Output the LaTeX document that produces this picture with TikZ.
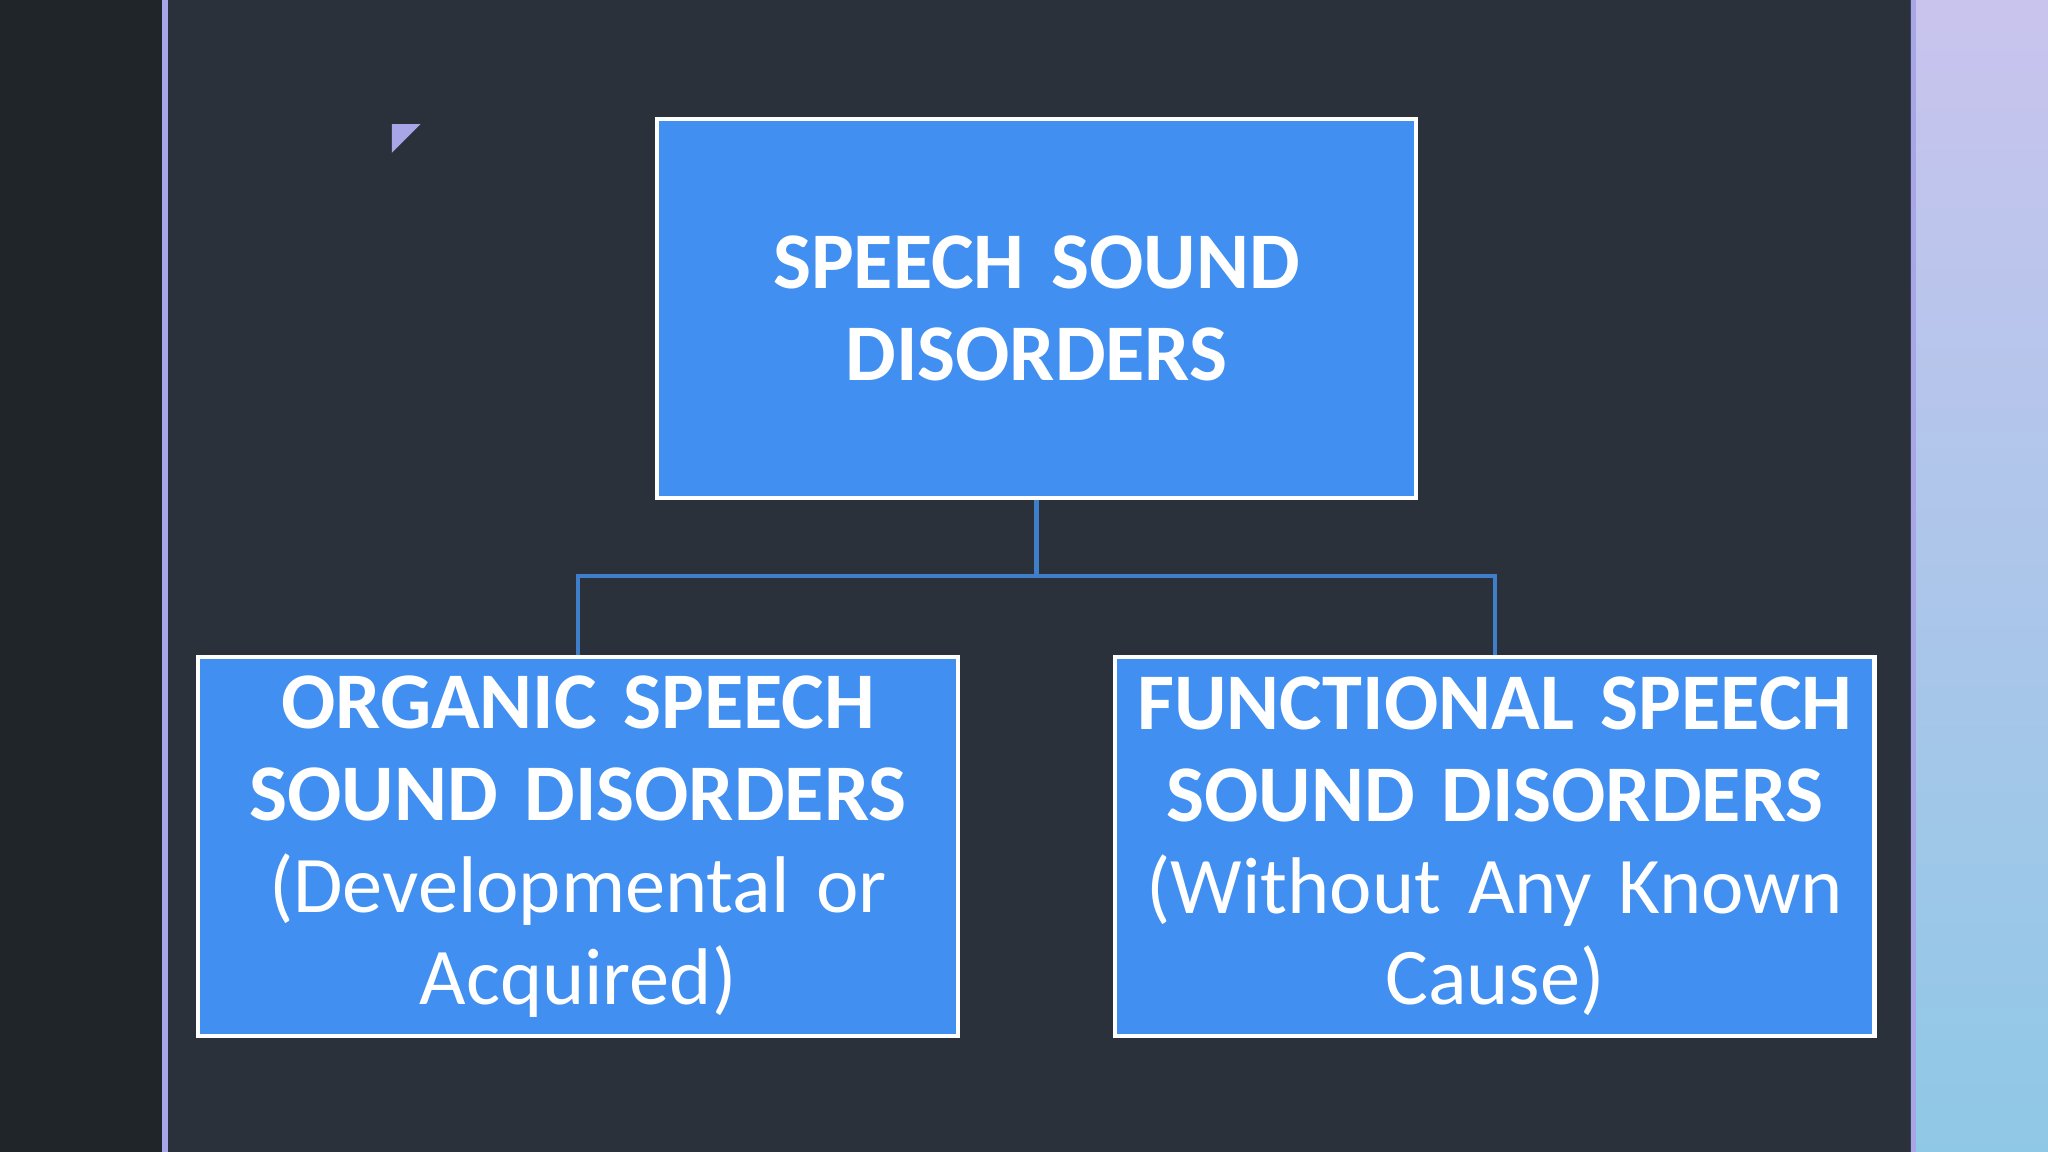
\documentclass[tikz,border=0pt]{standalone}
\usepackage{fontspec}
\setmainfont{Carlito}
\definecolor{bg}{HTML}{2B313A}
\definecolor{strip}{HTML}{1F2528}
\definecolor{boxblue}{HTML}{418FF0}
\definecolor{linkblue}{HTML}{3F7FC9}
\definecolor{lav}{HTML}{A9A6E8}
\definecolor{pbot}{HTML}{8FC8E6}
\definecolor{ptop}{HTML}{C9C4EE}
\begin{document}
\begin{tikzpicture}[x=0.01cm,y=-0.01cm,
  box/.style={draw=white,line width=0.9pt,fill=boxblue,text=white,align=center,
    minimum width=5.81cm,minimum height=2.9cm,inner sep=0pt,text width=5.8cm,
    font=\fontsize{17.5}{20}\selectfont},
  link/.style={draw=linkblue,line width=1pt}]
\fill[bg] (0,0) rectangle (1568,882);
\fill[strip] (0,0) rectangle (124,882);
\fill[lav] (124,0) rectangle (129,882);
\shade[top color=ptop,bottom color=pbot] (1463,0) rectangle (1568,882);
\fill[lav] (1463,0) rectangle (1467,882);
\fill[lav] (300,95) -- (322,95) -- (300,117) -- cycle;
\node[box] (top) at (793.5,236) {{\bfseries SPEECH SOUND}\\ {\bfseries DISORDERS}\\[0.6cm]};
\node[box] (left) at (442.5,648) {{\bfseries ORGANIC SPEECH}\\ {\bfseries SOUND DISORDERS}\\ (Developmental or\\ Acquired)};
\node[box] (right) at (1144.5,648) {{\bfseries FUNCTIONAL SPEECH}\\ {\bfseries SOUND DISORDERS}\\ (Without Any Known\\ Cause)};
\coordinate (mid) at (793.5,441);
\draw[link] (top.south) -- (mid) -| (left.north);
\draw[link] (mid) -| (right.north);
\end{tikzpicture}
\end{document}
